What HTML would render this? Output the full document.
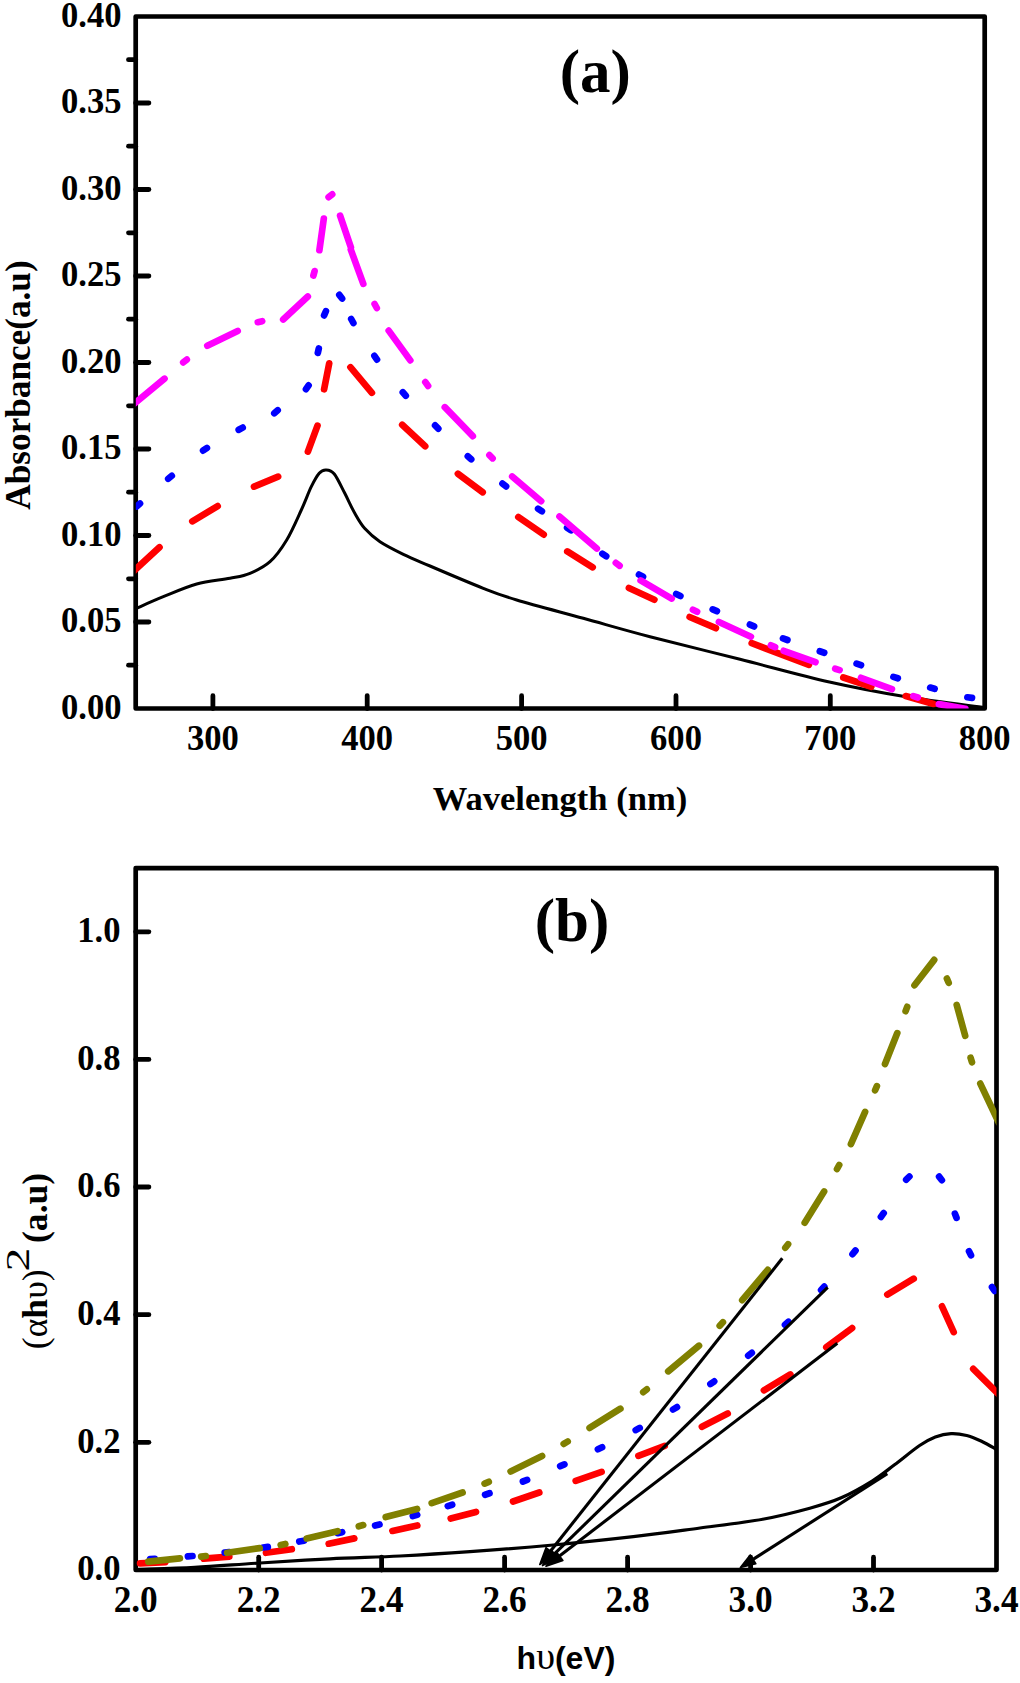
<!DOCTYPE html>
<html lang="en"><head><meta charset="utf-8"><title>UV-vis absorbance and Tauc plot</title>
<style>
html,body{margin:0;padding:0;background:#fff;}
body{width:1020px;height:1683px;overflow:hidden;}
svg{display:block;}
text{font-family:'Liberation Serif',serif;font-weight:bold;fill:#000;}
.tl{font-size:34px;}
.ax{stroke:#000;stroke-width:4.7;stroke-linecap:round;stroke-linejoin:round;fill:none;}
.tk{stroke:#000;stroke-width:4.8;stroke-linecap:round;fill:none;}
.d{stroke-width:6.7;stroke-linecap:round;fill:none;}
.k{stroke:#000;stroke-width:3.0;fill:none;stroke-linejoin:round;stroke-linecap:round;}
.r{stroke:#ff0000;} .b{stroke:#0000ff;} .m{stroke:#ff00ff;} .o{stroke:#808000;}
</style></head><body>
<svg width="1020" height="1683" viewBox="0 0 1020 1683">
<rect width="1020" height="1683" fill="#fff"/>

<g id="chart-a">
<path class="ax" d="M135.7,16.5 H984.7 V708.5 H135.7 Z"/>
<text transform="translate(121.5,718.8) scale(1,1.035)" text-anchor="end" style="font-size:34.6px">0.00</text>
<path class="tk" d="M135.7,622.0 h13.2"/>
<text transform="translate(121.5,632.3) scale(1,1.035)" text-anchor="end" style="font-size:34.6px">0.05</text>
<path class="tk" d="M135.7,535.5 h13.2"/>
<text transform="translate(121.5,545.8) scale(1,1.035)" text-anchor="end" style="font-size:34.6px">0.10</text>
<path class="tk" d="M135.7,449.0 h13.2"/>
<text transform="translate(121.5,459.3) scale(1,1.035)" text-anchor="end" style="font-size:34.6px">0.15</text>
<path class="tk" d="M135.7,362.5 h13.2"/>
<text transform="translate(121.5,372.8) scale(1,1.035)" text-anchor="end" style="font-size:34.6px">0.20</text>
<path class="tk" d="M135.7,276.0 h13.2"/>
<text transform="translate(121.5,286.3) scale(1,1.035)" text-anchor="end" style="font-size:34.6px">0.25</text>
<path class="tk" d="M135.7,189.5 h13.2"/>
<text transform="translate(121.5,199.8) scale(1,1.035)" text-anchor="end" style="font-size:34.6px">0.30</text>
<path class="tk" d="M135.7,103.0 h13.2"/>
<text transform="translate(121.5,113.3) scale(1,1.035)" text-anchor="end" style="font-size:34.6px">0.35</text>
<text transform="translate(121.5,26.8) scale(1,1.035)" text-anchor="end" style="font-size:34.6px">0.40</text>
<path class="tk" d="M135.7,665.2 h-7.2"/>
<path class="tk" d="M135.7,578.8 h-7.2"/>
<path class="tk" d="M135.7,492.2 h-7.2"/>
<path class="tk" d="M135.7,405.8 h-7.2"/>
<path class="tk" d="M135.7,319.2 h-7.2"/>
<path class="tk" d="M135.7,232.8 h-7.2"/>
<path class="tk" d="M135.7,146.2 h-7.2"/>
<path class="tk" d="M135.7,59.7 h-7.2"/>
<path class="tk" d="M212.9,708.5 v-12.8"/>
<text transform="translate(212.9,750.4) scale(1,1.035)" text-anchor="middle" style="font-size:34.6px">300</text>
<path class="tk" d="M367.2,708.5 v-12.8"/>
<text transform="translate(367.2,750.4) scale(1,1.035)" text-anchor="middle" style="font-size:34.6px">400</text>
<path class="tk" d="M521.6,708.5 v-12.8"/>
<text transform="translate(521.6,750.4) scale(1,1.035)" text-anchor="middle" style="font-size:34.6px">500</text>
<path class="tk" d="M676.0,708.5 v-12.8"/>
<text transform="translate(676.0,750.4) scale(1,1.035)" text-anchor="middle" style="font-size:34.6px">600</text>
<path class="tk" d="M830.3,708.5 v-12.8"/>
<text transform="translate(830.3,750.4) scale(1,1.035)" text-anchor="middle" style="font-size:34.6px">700</text>
<text transform="translate(984.7,750.4) scale(1,1.035)" text-anchor="middle" style="font-size:34.6px">800</text>
<clipPath id="ca"><rect x="135.8" y="16.5" width="848.9" height="692"/></clipPath>
<g clip-path="url(#ca)">
<path class="k"  d="M135.8,608.6C140.4,606.6 153.2,600.8 163.3,596.7C173.5,592.6 185.6,587.1 196.7,584.0C207.8,580.9 221.1,580.1 230.0,578.3C238.9,576.5 243.3,576.1 250.0,573.3C256.7,570.5 263.9,567.2 270.0,561.7C276.1,556.2 281.5,548.6 286.7,540.0C291.9,531.4 297.2,518.9 301.3,510.0C305.4,501.1 308.3,492.8 311.3,486.7C314.3,480.6 316.8,476.1 319.2,473.3C321.6,470.5 323.5,469.9 326.0,470.0C328.5,470.1 331.2,470.1 334.3,474.0C337.4,477.9 341.4,486.8 344.8,493.3C348.2,499.9 351.5,507.5 354.8,513.3C358.1,519.1 360.4,523.6 364.6,528.3C368.8,533.0 373.6,537.4 380.0,541.7C386.4,546.0 395.0,550.2 403.3,554.3C411.6,558.3 416.7,560.3 430.0,566.0C443.3,571.7 468.9,582.6 483.3,588.3C497.8,594.0 500.0,595.0 516.7,600.0C533.4,605.0 561.1,612.2 583.3,618.3C605.5,624.4 623.9,629.9 650.0,636.7C676.1,643.5 710.1,651.8 740.0,659.3C769.9,666.8 801.8,675.8 829.4,682.0C857.0,688.2 880.0,692.5 905.9,696.8C931.8,701.0 971.6,705.7 984.7,707.5"/>
<path class="d r" d="M133.0,571.8L159.5,547.2M192.3,521.3L217.7,506.1M254.0,486.6L278.1,476.6M307.9,451.6L317.5,425.7M324.1,389.3L329.2,363.4M350.4,367.2L371.9,392.8M402.2,424.8L425.2,446.2M457.9,473.7L482.7,492.3M518.3,517.1L543.7,534.6M567.3,551.4L592.7,567.3M628.9,588.0L654.4,599.7M689.6,617.0L715.9,628.2M751.7,643.2L808.9,664.8M843.3,677.5L871.3,686.8M905.7,696.1L933.7,703.9"/>
<path class="d b" d="M136.6,506.5L140.0,503.5M168.2,478.8L171.8,475.8M203.1,450.6L206.9,448.0M238.7,429.8L242.7,427.6M274.3,413.2L277.7,410.2M306.0,389.2L308.6,385.4M317.8,352.9L318.8,348.5M324.1,315.4L325.9,311.2M339.3,294.9L342.1,298.5M351.2,319.0L353.4,323.0M374.4,355.8L377.0,359.6M402.8,392.3L405.8,395.7M435.1,425.4L438.3,428.6M467.8,456.3L471.2,459.3M502.5,483.6L506.1,486.4M538.1,508.7L541.9,511.3M567.1,527.7L570.9,530.3M602.4,553.7L606.2,556.3M639.0,574.6L643.0,576.8M676.2,594.0L680.4,596.0M712.7,609.4L716.9,611.2M749.9,624.6L754.1,626.4M783.0,638.4L787.4,640.0M819.8,651.3L824.2,652.7M856.6,663.6L861.0,665.2M893.4,676.9L897.8,678.3M930.2,687.6L934.6,688.8M967.4,697.3L972.0,697.9"/>
<path class="d m" d="M133.0,404.7L164.5,378.7M183.2,362.4L186.8,359.6M207.3,345.7L237.7,331.0M257.8,322.2L262.2,321.2M283.2,319.5L307.8,296.5M313.4,275.5L314.6,271.1M319.4,250.2L323.8,218.6M328.6,197.1L332.2,194.3M340.1,215.6L350.9,247.3M350.8,249.6L363.3,283.8M374.6,304.0L376.8,308.0M388.7,330.6L410.3,360.4M425.3,382.1L428.1,385.9M444.8,407.2L472.8,436.2M489.4,455.1L492.6,458.3M512.2,476.5L541.2,501.2M559.5,516.5L596.8,548.5M615.8,562.9L619.6,565.7M640.6,580.4L671.7,598.6M692.9,609.7L697.1,611.7M718.9,622.0L750.9,636.7M770.9,645.3L775.1,647.1M783.7,650.8L815.5,662.2M835.2,668.7L839.6,670.1M861.0,677.8L891.9,689.2M913.4,696.1L917.8,697.5M938.9,704.1L965.3,708.9"/>
</g>
<text x="560" y="809.6" text-anchor="middle" style="font-size:34.6px">Wavelength (nm)</text>
<text transform="translate(30,385) rotate(-90)" text-anchor="middle" style="font-size:35.2px">Absorbance(a.u)</text>
<text x="595.3" y="92" text-anchor="middle" style="font-size:61px">(a)</text>
</g>
<g id="chart-b">
<path class="ax" d="M135.7,868.1 H996.5 V1570.0 H135.7 Z"/>
<text transform="translate(120.5,1580.3) scale(1,1.035)" text-anchor="end" style="font-size:34.6px">0.0</text>
<path class="tk" d="M135.7,1442.3 h13.2"/>
<text transform="translate(120.5,1452.6) scale(1,1.035)" text-anchor="end" style="font-size:34.6px">0.2</text>
<path class="tk" d="M135.7,1314.7 h13.2"/>
<text transform="translate(120.5,1325.0) scale(1,1.035)" text-anchor="end" style="font-size:34.6px">0.4</text>
<path class="tk" d="M135.7,1187.0 h13.2"/>
<text transform="translate(120.5,1197.3) scale(1,1.035)" text-anchor="end" style="font-size:34.6px">0.6</text>
<path class="tk" d="M135.7,1059.4 h13.2"/>
<text transform="translate(120.5,1069.7) scale(1,1.035)" text-anchor="end" style="font-size:34.6px">0.8</text>
<path class="tk" d="M135.7,931.8 h13.2"/>
<text transform="translate(120.5,942.0) scale(1,1.035)" text-anchor="end" style="font-size:34.6px">1.0</text>
<text transform="translate(135.7,1611.5) scale(1,1.045)" text-anchor="middle" style="font-size:35.3px">2.0</text>
<path class="tk" d="M258.7,1570.0 v-12.8"/>
<text transform="translate(258.7,1611.5) scale(1,1.045)" text-anchor="middle" style="font-size:35.3px">2.2</text>
<path class="tk" d="M381.6,1570.0 v-12.8"/>
<text transform="translate(381.6,1611.5) scale(1,1.045)" text-anchor="middle" style="font-size:35.3px">2.4</text>
<path class="tk" d="M504.6,1570.0 v-12.8"/>
<text transform="translate(504.6,1611.5) scale(1,1.045)" text-anchor="middle" style="font-size:35.3px">2.6</text>
<path class="tk" d="M627.6,1570.0 v-12.8"/>
<text transform="translate(627.6,1611.5) scale(1,1.045)" text-anchor="middle" style="font-size:35.3px">2.8</text>
<path class="tk" d="M750.6,1570.0 v-12.8"/>
<text transform="translate(750.6,1611.5) scale(1,1.045)" text-anchor="middle" style="font-size:35.3px">3.0</text>
<path class="tk" d="M873.5,1570.0 v-12.8"/>
<text transform="translate(873.5,1611.5) scale(1,1.045)" text-anchor="middle" style="font-size:35.3px">3.2</text>
<text transform="translate(996.5,1611.5) scale(1,1.045)" text-anchor="middle" style="font-size:35.3px">3.4</text>
<clipPath id="cb"><rect x="136" y="868.1" width="860.5" height="702"/></clipPath>
<g clip-path="url(#cb)">
<path class="k" style="stroke-width:3.2" d="M136.0,1569.5C145.8,1569.1 174.0,1568.4 194.7,1567.3C215.4,1566.2 237.4,1564.4 260.0,1563.0C282.6,1561.6 306.7,1560.0 330.0,1558.8C353.3,1557.6 376.7,1557.2 400.0,1556.0C423.3,1554.8 444.4,1553.5 470.0,1551.7C495.6,1549.9 526.1,1547.5 553.3,1545.0C580.5,1542.5 608.8,1539.5 633.3,1536.7C657.8,1533.9 678.4,1530.9 700.0,1528.0C721.6,1525.1 744.4,1522.5 762.7,1519.2C781.0,1515.9 796.7,1511.8 809.8,1508.2C822.9,1504.6 830.8,1502.4 841.2,1497.8C851.7,1493.2 863.6,1486.3 872.5,1480.8C881.4,1475.3 886.6,1470.7 894.5,1464.8C902.4,1458.9 912.8,1450.1 919.6,1445.5C926.4,1440.9 930.1,1439.0 935.3,1437.0C940.5,1435.0 945.8,1433.8 951.0,1433.6C956.2,1433.3 961.5,1434.2 966.7,1435.5C971.9,1436.8 977.4,1439.4 982.4,1441.7C987.4,1444.0 994.1,1448.2 996.5,1449.5"/>
<path class="d r" d="M140.1,1563.3L165.3,1562.2M203.7,1558.7L229.3,1556.6M266.0,1552.8L291.8,1549.2M328.7,1543.7L354.3,1538.4M392.4,1530.9L417.3,1525.5M450.7,1518.5L476.0,1511.9M513.0,1501.5L539.3,1492.5M575.7,1480.8L601.6,1471.9M638.4,1455.8L664.7,1445.9M701.9,1426.7L727.7,1413.6M763.9,1390.3L790.4,1374.4M826.3,1347.3L852.1,1328.1M887.3,1294.6L913.7,1278.7M942.0,1306.3L953.7,1332.1M973.2,1368.8L999.0,1394.7"/>
<path class="d b" d="M150.2,1559.2L154.8,1558.8M187.9,1556.4L192.5,1556.0M224.7,1552.6L229.3,1552.0M263.2,1547.5L267.8,1546.9M299.3,1541.5L303.9,1540.7M337.8,1533.2L342.2,1532.2M375.1,1525.5L379.5,1524.5M412.8,1516.0L417.2,1514.8M447.8,1506.1L452.2,1504.7M485.1,1494.7L489.5,1493.3M522.9,1481.5L527.1,1479.9M560.2,1466.2L564.4,1464.4M597.9,1449.3L602.1,1447.3M635.7,1430.1L639.7,1427.9M673.0,1409.5L677.0,1407.1M710.4,1384.0L714.2,1381.4M748.2,1355.7L751.8,1352.9M785.0,1324.8L788.4,1321.8M821.1,1290.0L824.3,1286.6M852.5,1254.1L855.5,1250.5M880.9,1216.9L883.7,1213.1M906.2,1179.7L909.4,1176.5M939.1,1176.6L941.9,1180.2M954.9,1213.6L956.5,1217.8M969.0,1251.3L971.0,1255.3M992.0,1287.1L994.6,1290.9"/>
<path class="d o" d="M148.3,1561.7L179.9,1558.3M201.2,1556.6L205.8,1556.0M227.2,1552.8L259.7,1548.1M280.7,1545.0L285.3,1544.0M306.7,1538.6L337.6,1531.2M358.8,1526.3L363.2,1525.1M385.7,1517.1L417.1,1509.0M431.7,1503.1L462.6,1492.5M484.6,1483.6L488.8,1481.8M510.6,1471.4L542.1,1456.0M563.7,1443.9L567.7,1441.5M589.6,1427.9L620.4,1408.7M643.2,1392.1L646.8,1389.3M668.2,1371.3L699.0,1345.7M719.7,1325.7L722.9,1322.3M742.2,1300.2L767.8,1269.8M785.3,1247.8L788.1,1244.2M804.7,1222.7L824.1,1191.4M837.0,1169.0L839.2,1165.0M850.9,1144.1L865.1,1111.9M875.1,1090.3L876.9,1086.1M885.0,1064.1L897.3,1033.1M905.6,1011.2L907.2,1006.8M914.5,985.3L934.2,959.9M946.9,978.6L948.7,982.8M956.7,1004.9L965.2,1035.8M970.6,1057.8L972.0,1062.2M980.3,1083.6L999.0,1123.0"/>
</g>
<path d="M782.3,1258.3L550.4,1551.2" stroke="#000" stroke-width="3.1" fill="none"/><path d="M539.8,1564.5L546.0,1547.7L554.7,1554.6Z" fill="#000" stroke="#000" stroke-width="1.6" stroke-linejoin="round"/>
<path d="M827.7,1287.3L554.7,1553.7" stroke="#000" stroke-width="3.1" fill="none"/><path d="M542.5,1565.6L550.8,1549.7L558.6,1557.7Z" fill="#000" stroke="#000" stroke-width="1.6" stroke-linejoin="round"/>
<path d="M837.3,1343.3L559.5,1556.0" stroke="#000" stroke-width="3.1" fill="none"/><path d="M546.0,1566.3L556.1,1551.5L562.9,1560.4Z" fill="#000" stroke="#000" stroke-width="1.6" stroke-linejoin="round"/>
<path d="M887.3,1473.6L753.0,1559.4" stroke="#000" stroke-width="3.1" fill="none"/><path d="M740.4,1567.5L750.2,1555.0L755.8,1563.8Z" fill="#000" stroke="#000" stroke-width="1.6" stroke-linejoin="round"/>
<text x="566" y="1669" text-anchor="middle" style="font-family:'Liberation Sans',sans-serif;font-size:32px">h<tspan style="font-family:'Liberation Serif',serif;font-weight:normal;font-size:38px">υ</tspan>(eV)</text>
<text transform="translate(46.5,1261) rotate(-90)" text-anchor="middle" style="font-size:35.6px"><tspan style="font-weight:normal">(α</tspan>h<tspan style="font-weight:normal">υ)</tspan><tspan dx="17.5"> (a.u)</tspan></text>
<text transform="translate(28.9,1259.6) rotate(-90) scale(1.5,1.03)" text-anchor="middle" style="font-weight:normal;font-size:32px">2</text>
<text x="572" y="941" text-anchor="middle" style="font-size:61px">(b)</text>
</g>
</svg></body></html>
